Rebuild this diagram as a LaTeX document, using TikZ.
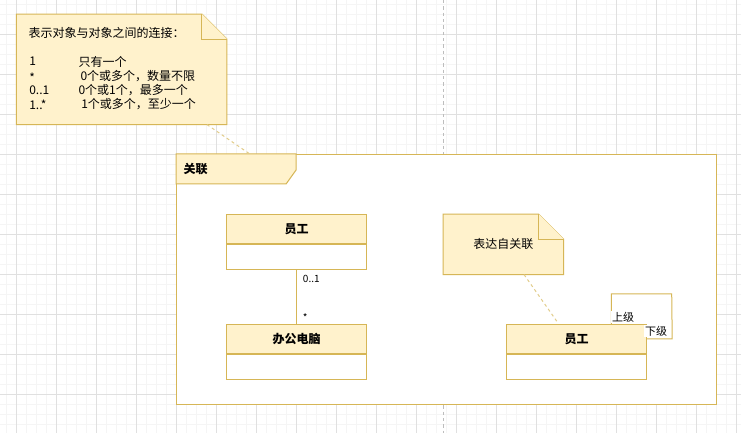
\documentclass[tikz,border=0pt]{standalone}
\usepackage{fontspec}
\setmainfont{Noto Sans CJK SC}
\definecolor{umlfill}{HTML}{FFF2CC}
\definecolor{umlstroke}{HTML}{D6B656}
\definecolor{gridmajor}{HTML}{E0E0E0}
\definecolor{gridminor}{HTML}{F5F5F5}
\definecolor{pagebreak}{HTML}{BDBDBD}
\tikzset{
  txt/.style={font=\fontsize{9}{11}\selectfont, inner sep=0pt, text=black},
  small/.style={font=\fontsize{7.5}{9}\selectfont, inner sep=0pt, text=black},
  rolelbl/.style={font=\fontsize{8.25}{10}\selectfont, inner sep=0.6pt, fill=white, text=black},
  classhead/.style={draw=umlstroke, fill=umlfill, line width=0.75pt, minimum width=105pt, minimum height=21.75pt, inner sep=0pt, font=\fontsize{9}{11}\selectfont\bfseries},
  classbody/.style={draw=umlstroke, fill=white, line width=0.75pt, minimum width=105pt, minimum height=18.75pt, inner sep=0pt, anchor=north},
  notebox/.style={inner sep=0pt},
  noteshape/.style={draw=umlstroke, fill=umlfill, line width=0.75pt, line join=miter},
  frameline/.style={draw=umlstroke, line width=0.75pt},
  assoc/.style={draw=umlstroke, line width=0.75pt},
  noteconn/.style={draw=umlstroke!70, line width=0.75pt, dash pattern=on 2.25pt off 2.25pt},
}
\begin{document}
\begin{tikzpicture}[x=0.75pt,y=-0.75pt]
\useasboundingbox (0,0) rectangle (741,433);
\fill[white] (0,0) rectangle (741,433);
% grid
\foreach \i in {0,...,73} \draw[gridminor, line width=0.75pt] (6.7+10*\i,0) -- (6.7+10*\i,433);
\foreach \i in {0,...,42} \draw[gridminor, line width=0.75pt] (0,4.3+10*\i) -- (741,4.3+10*\i);
\foreach \i in {0,...,18} \draw[gridmajor, line width=0.75pt] (16.7+40*\i,0) -- (16.7+40*\i,433);
\foreach \i in {0,...,10} \draw[gridmajor, line width=0.75pt] (0,34.3+40*\i) -- (741,34.3+40*\i);
\draw[pagebreak, line width=0.75pt, dash pattern=on 2.5pt off 2.25pt] (443.3,0) -- (443.3,433);

% frame
\node[frameline, fill=white, minimum width=405pt, minimum height=187.5pt, inner sep=0pt] (frame) at (446.7,279.3) {};
\draw[frameline, fill=umlfill] (frame.north west) -- ([xshift=90pt]frame.north west) -- ([xshift=90pt,yshift=-12pt]frame.north west) -- ([xshift=82.5pt,yshift=-22.5pt]frame.north west) -- ([yshift=-22.5pt]frame.north west) -- cycle;
\node[txt, anchor=west, font=\fontsize{9}{11}\selectfont\bfseries] (framelbl) at (183.3,169.3) {关联};

% note 1
\node[notebox, minimum width=157.5pt, minimum height=82.5pt] (note1) at (121.7,69.3) {};
\draw[noteshape] (note1.north west) -- ([xshift=-18.75pt]note1.north east) -- ([yshift=-18.75pt]note1.north east) -- (note1.south east) -- (note1.south west) -- cycle;
\draw[noteshape] ([xshift=-18.75pt]note1.north east) -- ([xshift=-18.75pt,yshift=-18.75pt]note1.north east) -- ([yshift=-18.75pt]note1.north east);
\node[txt, anchor=west] (n1title) at (28.3,33.3) {表示对象与对象之间的连接：};
\node[txt, anchor=west] (n1a) at (29,61.7) {1};
\node[txt, anchor=west] (n1b) at (29,77.5) {*};
\node[txt, anchor=west] (n1c) at (29,90) {0..1};
\node[txt, anchor=west] (n1d) at (29,104.3) {1..*};
\node[txt, anchor=west] (n1a2) at (78.3,61.7) {只有一个};
\node[txt, anchor=west] (n1b2) at (80.3,76) {0个或多个，数量不限};
\node[txt, anchor=west] (n1c2) at (78.3,90) {0个或1个，最多一个};
\node[txt, anchor=west] (n1d2) at (81,104.3) {1个或多个，至少一个};
\draw[noteconn] ([xshift=-15pt]note1.south east) -- ([xshift=55pt]frame.north west);

% left classes
\node[classhead] (emp1) at (296.7,228.8) {员工};
\node[classbody] (emp1b) at (emp1.south) {};
\node[classhead] (pc) at (296.7,338.8) {办公电脑};
\node[classbody] (pcb) at (pc.south) {};
\draw[assoc] (emp1b.south) -- (pc.north);
\node[small, anchor=west] (m01) at (302.7,278.8) {0..1};
\node[small, anchor=west] (mstar) at (302.7,317.5) {*};

% note 2
\node[notebox, minimum width=90pt, minimum height=45pt] (note2) at (503.3,244.3) {};
\draw[noteshape] (note2.north west) -- ([xshift=-18.75pt]note2.north east) -- ([yshift=-18.75pt]note2.north east) -- (note2.south east) -- (note2.south west) -- cycle;
\draw[noteshape] ([xshift=-18.75pt]note2.north east) -- ([xshift=-18.75pt,yshift=-18.75pt]note2.north east) -- ([yshift=-18.75pt]note2.north east);
\node[txt] (n2txt) at (503.3,244) {表达自关联};

% right class with self association
\node[classhead] (emp2) at (576.7,338.8) {员工};
\node[classbody] (emp2b) at (emp2.south) {};
\draw[noteconn] ([xshift=60.75pt]note2.south west) -- ([xshift=-15pt,yshift=2pt]emp2.north);
\draw[assoc] ([xshift=26pt]emp2.north) -- ([xshift=26pt,yshift=22.5pt]emp2.north) -- ([xshift=71.25pt,yshift=22.5pt]emp2.north) -- ([xshift=18.75pt]emp2.east) -- (emp2.east);
\node[rolelbl, anchor=south west] (sup) at (611,323.5) {上级};
\node[rolelbl, anchor=south east] (sub) at (668.3,337) {下级};
\end{tikzpicture}
\end{document}
